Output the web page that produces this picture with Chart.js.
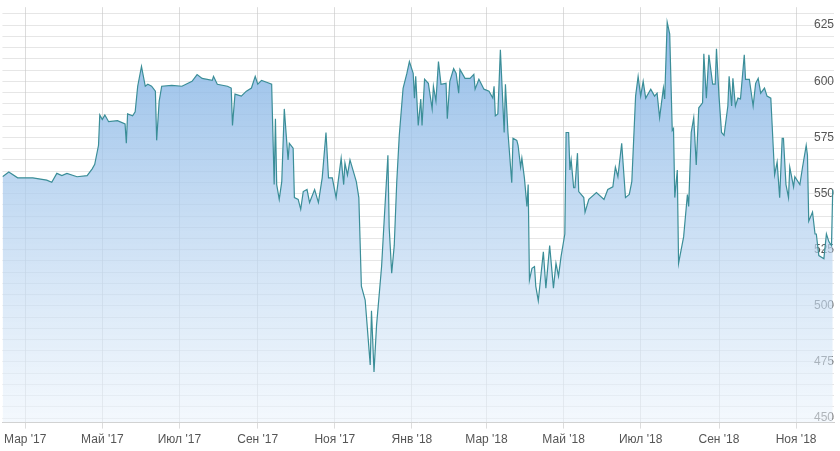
<!DOCTYPE html>
<html><head><meta charset="utf-8">
<script src="https://cdn.jsdelivr.net/npm/chart.js@4"></script>
<style>html,body{margin:0;padding:0;background:#fff}#w{width:840px;height:451px}</style>
</head><body><div id="w"><canvas id="c"></canvas></div>
<script>
// days since 2017-03-01
const days = [-18,-13,-6,6,17,21,25,29,33,41,49,53,55,58,59,61,63,66,73,79,80,81,85,87,89,92,95,97,100,103,104,106,108,116,124,132,136,140,148,149,152,160,163,164,166,171,175,179,182,184,187,191,195,197,198,199,201,203,205,208,209,212,213,216,218,220,223,225,229,232,235,238,240,243,246,250,252,253,255,257,260,262,264,266,269,273,274,276,278,282,284,287,288,290,292,294,296,299,302,304,307,308,309,311,313,314,316,319,322,323,325,327,329,333,334,336,339,341,343,344,348,352,355,356,359,363,367,370,371,372,374,376,379,380,382,385,386,389,390,392,393,395,397,398,399,401,403,404,406,410,412,415,418,420,422,424,427,428,430,431,432,434,435,437,438,442,443,446,452,458,461,465,467,469,472,475,478,480,483,485,487,489,491,495,498,500,502,505,506,508,510,512,513,514,516,517,521,524,525,527,529,531,533,536,537,539,541,544,546,547,549,551,553,556,557,559,560,562,564,566,569,570,573,576,578,580,582,585,587,590,593,595,597,599,600,602,604,605,608,609,613,615,618,619,620,623,625,626,628,632,634,636,638,639];
const prices = [557.5,559.6,557,557,556,555,559,558,559,557.5,558,561,563,571.5,585,583,585,582,582.5,581,572.4,585.5,584.6,586.4,597.8,606.6,597.8,598.7,597.8,595.6,573.7,591.2,597.8,598.2,597.8,600,603,601.3,600.4,602.2,598.7,597.8,597,580.3,594.3,593.4,595.6,597,602.2,598.7,600.4,599.6,598.7,554,583.3,554,547.4,555.3,587.7,565,572.4,570.2,548.2,547.4,543,550.9,551.8,546,551.8,546,557,577.2,557,557,548.2,565.8,554,563.6,558.3,565,559.2,555.3,548.2,508.8,502.6,473.7,497.8,470.6,491.2,517.5,537.7,567.1,535,514.5,526.8,555.3,575.9,596.9,603.5,608.8,603.5,592.5,602.2,580.3,592.1,580.3,600.9,599.1,587.7,597.8,591.2,608.8,598.7,599.1,583.3,600,605.7,603.5,594.7,605.3,601.3,601.3,603.1,596.5,600.9,596.5,595.6,592.5,597.8,584.6,585.5,614,577.2,598.7,577.2,554.8,574.6,573.7,571.5,561.8,565.8,557,544.3,554,511.4,516.7,517.5,508.8,502.2,524.1,507.9,526.8,507.9,518.9,513.2,521.9,532,577.2,577.2,560.5,565,552.6,552.6,568,550.9,548.2,541.7,547.4,550.4,547.4,551.8,553,561.8,557.5,572.4,548.2,549.6,555.3,593.4,602.2,593.4,600,592.5,596.5,593.4,594.7,583.8,597,592.1,626.3,621,578.1,579,548.2,560.5,518.9,530.7,549.6,544.3,577.2,583.8,562.7,588.2,590.4,612.3,592.5,611.8,598.7,598.7,614.5,593.4,577.2,575.9,589,602.2,589,601.3,589,592.5,592.1,611.8,600.9,600.9,589,599.1,601.3,594.7,597,593.4,592.5,558.3,564,548.2,574.6,574.6,554,548.2,561.8,553,557.5,554,561.4,571.5,567.1,537.7,541.7,532,532,522.4,521,532,528.5,526.8,551.7];
const tickDays = [0,61,122,184,245,306,365,426,487,549,610];
const tickLabels = ["Мар '17","Май '17","Июл '17","Сен '17","Ноя '17","Янв '18","Мар '18","Май '18","Июл '18","Сен '18","Ноя '18"];
const yLabels = [450,475,500,525,550,575,600,625];

const pts = days.map((d,i)=>({x:d,y:prices[i]}));
new Chart(document.getElementById('c'),{
  type:'line',
  data:{datasets:[{data:pts,borderColor:'#3b8e98',borderWidth:1.2,pointRadius:0,tension:0,fill:'start',
    backgroundColor:(ctx)=>{const a=ctx.chart.chartArea;if(!a)return 'rgba(140,185,230,0.8)';
      const g=ctx.chart.ctx.createLinearGradient(0,a.top,0,a.bottom);
      g.addColorStop(0,'rgba(120,172,226,0.85)');g.addColorStop(1,'rgba(236,244,252,0.6)');return g;}}]},
  options:{responsive:true,maintainAspectRatio:false,animation:false,
    layout:{padding:{left:0,right:6,top:0,bottom:0}},
    plugins:{legend:{display:false},tooltip:{enabled:false}},
    scales:{
      x:{type:'linear',min:-18,max:640,
        afterBuildTicks:(s)=>{s.ticks=tickDays.map(v=>({value:v}));},
        ticks:{autoSkip:false,maxRotation:0,color:'#555',font:{family:'Liberation Sans, Arial',size:12},padding:4,
          callback:(v)=>{const i=tickDays.indexOf(v);return i>=0?tickLabels[i]:'';}},
        grid:{color:'#dcdcdc',tickLength:6},border:{color:'#cfcfcf'}},
      y:{position:'right',min:448,max:633,z:1,
        afterBuildTicks:(s)=>{const t=[];for(let v=450;v<=630;v+=5)t.push({value:v});s.ticks=t;},
        ticks:{mirror:true,autoSkip:false,color:'#555',font:{family:'Liberation Sans, Arial',size:12},padding:0,
          callback:(v)=>yLabels.includes(v)?String(v):''},
        grid:{color:'rgba(200,200,200,0.45)',drawTicks:false},border:{display:false}}
    }}
});
</script></body></html>
